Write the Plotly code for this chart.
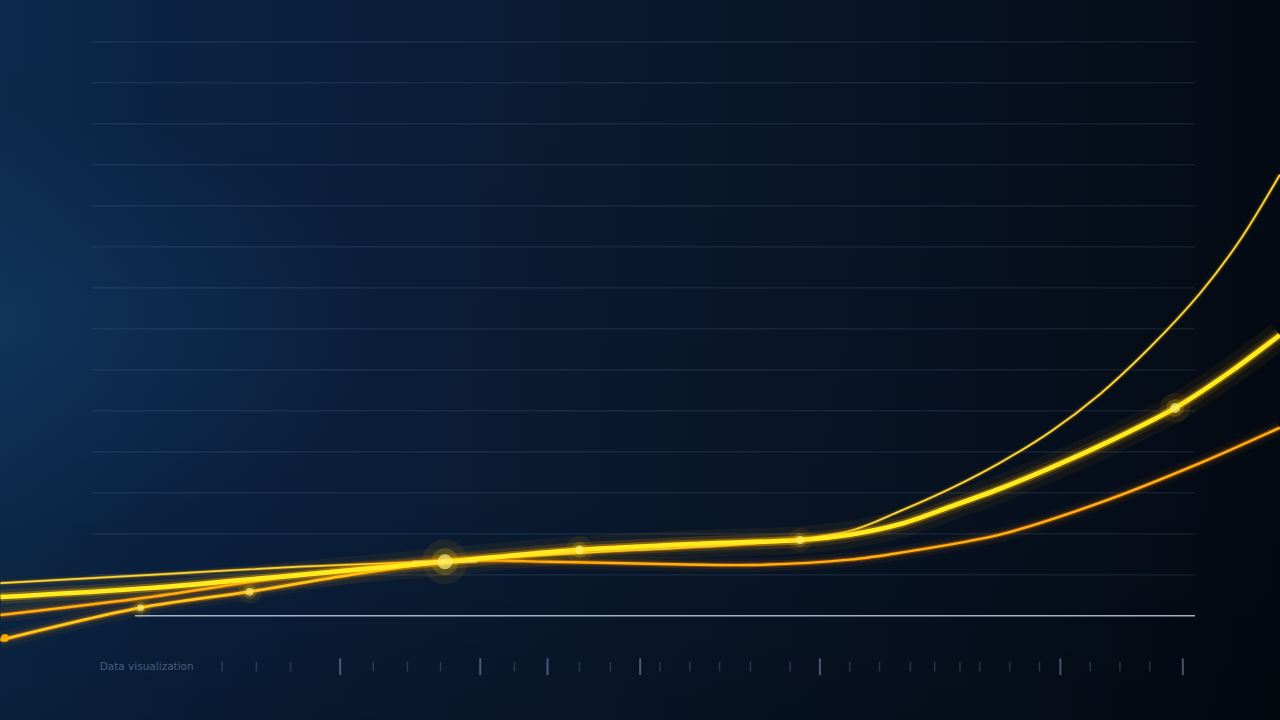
import base64
import plotly.graph_objects as go

# ---------------- data (chart units: x 0..100 across the grid, y = grid steps) -------------
thin_x = [-8.3, 5.3, 18.9, 32.0, 46.1, 59.7, 68.7, 73.3, 77.8, 82.3, 86.9, 91.4, 95.9, 100.5, 104.1, 107.7]
thin_y = [0.80, 1.00, 1.20, 1.34, 1.56, 1.76, 2.07, 2.56, 3.10, 3.73, 4.49, 5.41, 6.54, 7.88, 9.17, 10.76]

main_x = [-8.3, 5.3, 18.9, 32.0, 44.2, 55.1, 64.2, 68.7, 73.3, 77.8, 82.3, 86.9, 91.4, 98.2, 103.2, 107.7]
main_y = [0.46, 0.68, 1.00, 1.32, 1.61, 1.76, 1.85, 1.98, 2.24, 2.66, 3.10, 3.61, 4.15, 5.07, 5.95, 6.85]

low_x = [-8.3, 5.3, 18.9, 32.0, 41.5, 50.6, 59.7, 68.7, 73.3, 82.3, 91.4, 100.5, 107.7]
low_y = [0.02, 0.46, 1.00, 1.34, 1.32, 1.27, 1.24, 1.37, 1.54, 1.98, 2.76, 3.73, 4.59]

rise_x = [-8.3, 4.4, 14.3, 23.4, 32.0, 44.2, 55.1, 64.2]
rise_y = [-0.59, 0.20, 0.59, 1.00, 1.32, 1.59, 1.73, 1.85]

grid_levels = [1, 2, 3, 4, 5, 6, 7, 8, 9, 10, 11, 12, 13, 14]

tick_x = [11.8, 14.9, 18.0, 22.5, 25.5, 28.6, 31.6, 35.2, 38.3, 41.3, 44.2, 47.0, 49.7, 51.5,
          54.2, 56.9, 59.7, 63.3, 66.0, 68.7, 71.4, 74.2, 76.4, 78.7, 80.5, 83.2, 85.9, 87.8,
          90.5, 93.2, 95.9, 98.9]
tick_major = [22.5, 35.2, 41.3, 49.7, 66.0, 87.8, 98.9]
axis_label = "Data visualization"

# sparkle points: (series, index)
sparkles = [("rise", 1), ("rise", 2), ("main", 3), ("main", 4), ("main", 6), ("main", 13)]

X_RANGE = [-8.34, 107.71]
Y_RANGE = [-2.54, 15.02]

# ---------------- background gradient (SVG) ----------------
svg = """<svg xmlns='http://www.w3.org/2000/svg' width='1280' height='720' viewBox='0 0 1280 720' preserveAspectRatio='none'>
<defs>
<linearGradient id='g' x1='0' y1='0' x2='1' y2='0'>
<stop offset='0' stop-color='#0d2a4c'/>
<stop offset='0.12' stop-color='#0b2343'/>
<stop offset='0.45' stop-color='#0a1a31'/>
<stop offset='0.75' stop-color='#071222'/>
<stop offset='1' stop-color='#040a13'/>
</linearGradient>
<linearGradient id='v' x1='0' y1='0' x2='0' y2='1'>
<stop offset='0' stop-color='#000000' stop-opacity='0'/>
<stop offset='0.7' stop-color='#000000' stop-opacity='0.05'/>
<stop offset='1' stop-color='#000000' stop-opacity='0.22'/>
</linearGradient>
<radialGradient id='r' cx='0' cy='0.45' r='0.3'>
<stop offset='0' stop-color='#15406e' stop-opacity='0.5'/>
<stop offset='1' stop-color='#15406e' stop-opacity='0'/>
</radialGradient>
</defs>
<rect width='1280' height='720' fill='url(#g)'/>
<rect width='1280' height='720' fill='url(#r)'/>
<rect width='1280' height='720' fill='url(#v)'/>
</svg>"""
bg_src = "data:image/svg+xml;base64," + base64.b64encode(svg.encode()).decode()

fig = go.Figure()


def glow_line(xs, ys, core_color, glow_color, width, glow_scale=1.0):
    layers = [(width * 6 * glow_scale, 0.05, glow_color),
              (width * 3.2 * glow_scale, 0.11, glow_color),
              (width * 1.8, 0.35, glow_color),
              (width, 1.0, core_color)]
    for w, op, col in layers:
        fig.add_trace(go.Scatter(x=xs, y=ys, mode="lines",
                                 line=dict(color=col, width=w, shape="spline", smoothing=0.9),
                                 opacity=op, hoverinfo="skip", showlegend=False))


glow_line(low_x, low_y, "#ffb10f", "#ff8000", 2.4)
glow_line(rise_x, rise_y, "#ffc81a", "#ff9000", 2.8)
glow_line(thin_x, thin_y, "#f2dc40", "#ffa000", 1.7, 0.7)
glow_line(main_x, main_y, "#ffec1f", "#ffb000", 4.6)

series = {"rise": (rise_x, rise_y), "main": (main_x, main_y)}
sx = [series[s][0][i] for s, i in sparkles]
sy = [series[s][1][i] for s, i in sparkles]
sizes = [7, 8, 15, 9, 8, 10]
for scale, op, col in [(3.0, 0.12, "#ffb000"), (1.8, 0.28, "#ffd000"), (1.0, 0.95, "#fff27a")]:
    fig.add_trace(go.Scatter(x=sx, y=sy, mode="markers",
                             marker=dict(size=[s * scale for s in sizes], color=col, line=dict(width=0)),
                             opacity=op, hoverinfo="skip", showlegend=False))
# horizontal flare on the brightest sparkle
fig.add_trace(go.Scatter(x=[sx[2]], y=[sy[2]], mode="markers",
                         marker=dict(symbol="line-ew", size=46, line=dict(width=3, color="rgba(255,235,90,0.45)")),
                         hoverinfo="skip", showlegend=False))
# left-edge bright dot
fig.add_trace(go.Scatter(x=[rise_x[0] + 0.4], y=[rise_y[0] + 0.05], mode="markers",
                         marker=dict(size=8, color="#ffb000"), opacity=0.9, hoverinfo="skip", showlegend=False))

# tick row
minor = [t for t in tick_x if t not in tick_major]
fig.add_trace(go.Scatter(x=minor, y=[-1.24] * len(minor), mode="markers",
                         marker=dict(symbol="line-ns", size=7, line=dict(width=1.5, color="rgba(120,150,190,0.28)")),
                         hoverinfo="skip", showlegend=False))
fig.add_trace(go.Scatter(x=tick_major, y=[-1.24] * len(tick_major), mode="markers",
                         marker=dict(symbol="line-ns", size=12, line=dict(width=2, color="rgba(150,175,210,0.45)")),
                         hoverinfo="skip", showlegend=False))
fig.add_trace(go.Scatter(x=[0.7], y=[-1.26], mode="text", text=[axis_label], textposition="middle right",
                         textfont=dict(family="DejaVu Sans", size=10.5, color="rgba(130,160,200,0.5)"),
                         hoverinfo="skip", showlegend=False))

shapes = []
for g in grid_levels:
    shapes.append(dict(type="line", xref="x", yref="y", x0=0, x1=100, y0=g, y1=g,
                       line=dict(color="rgba(125,150,185,0.16)", width=1.2), layer="below"))
shapes.append(dict(type="line", xref="x", yref="y", x0=3.9, x1=100, y0=0, y1=0,
                   line=dict(color="rgba(205,218,235,0.8)", width=1.5), layer="below"))

fig.update_layout(
    width=1280, height=720,
    margin=dict(l=0, r=0, t=0, b=0),
    paper_bgcolor="#07111f", plot_bgcolor="rgba(0,0,0,0)",
    images=[dict(source=bg_src, xref="paper", yref="paper", x=0, y=1, sizex=1, sizey=1,
                 xanchor="left", yanchor="top", sizing="stretch", layer="below")],
    shapes=shapes,
    xaxis=dict(range=X_RANGE, visible=False, fixedrange=True),
    yaxis=dict(range=Y_RANGE, visible=False, fixedrange=True),
    showlegend=False,
)

fig.write_html("out.html", config={"displayModeBar": False},
               post_script="document.body.style.margin='0';document.body.style.overflow='hidden';")
